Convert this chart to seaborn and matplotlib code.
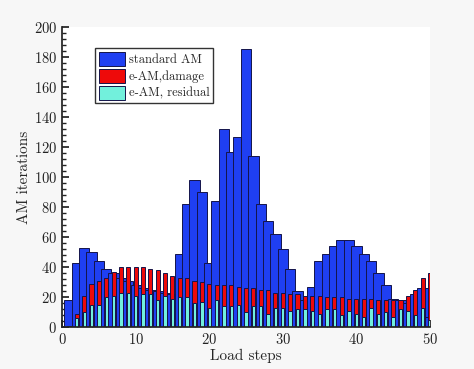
import matplotlib
matplotlib.use("Agg")
import matplotlib.pyplot as plt
import seaborn as sns
import numpy as np

# load steps 1..50
steps = list(range(1, 51))

standard_am = [18, 43, 53, 50, 44, 39, 36, 33, 31, 28,
               26, 25, 24, 23, 22, 49, 82, 98, 90, 43,
               84, 132, 117, 127, 185, 114, 82, 71, 62, 52,
               39, 24, 18, 27, 44, 49, 54, 58, 58, 54,
               49, 44, 36, 28, 19, 18, 16, 22, 26, 7]

eam_damage = [1, 9, 21, 29, 31, 33, 37, 40, 40, 40,
              40, 39, 38, 36, 34, 33, 33, 31, 30, 29,
              28, 28, 28, 27, 26, 26, 25, 25, 23, 23,
              22, 22, 21, 21, 21, 20, 20, 20, 19, 19,
              19, 19, 18, 18, 18, 18, 21, 25, 33, 36]

eam_residual = [1, 6, 10, 15, 15, 20, 21, 23, 23, 21,
                22, 22, 18, 21, 19, 20, 20, 16, 17, 13,
                18, 14, 14, 15, 10, 14, 14, 9, 13, 13,
                11, 12, 12, 11, 9, 12, 12, 8, 11, 9,
                7, 13, 9, 10, 7, 12, 11, 8, 13, 5]

sns.set_theme(style="ticks")
plt.rcParams["font.family"] = ["cmr10", "DejaVu Serif"]
plt.rcParams["mathtext.fontset"] = "cm"
plt.rcParams["axes.unicode_minus"] = False
plt.rcParams["axes.formatter.use_mathtext"] = True

fig = plt.figure(figsize=(4.74, 3.69), dpi=100, facecolor="#f7f7f7")
ax = fig.add_axes([0.131, 0.1125, 0.776, 0.815])
ax.set_facecolor("white")

edge = "#14144a"
sns.barplot(x=steps, y=standard_am, native_scale=True, width=1.4, color="#1f3ff2",
            saturation=1, edgecolor=edge, linewidth=0.7, errorbar=None,
            label="standard AM", ax=ax)
sns.barplot(x=steps, y=eam_damage, native_scale=True, width=0.55, color="#ee0a0a",
            saturation=1, edgecolor=edge, linewidth=0.7, errorbar=None,
            label="e-AM,damage", ax=ax)
sns.barplot(x=steps, y=eam_residual, native_scale=True, width=0.45, color="#72f0dc",
            saturation=1, edgecolor=edge, linewidth=0.7, errorbar=None,
            label="e-AM, residual", ax=ax)

ax.set_xlim(0, 50)
ax.set_ylim(0, 200)
ax.set_xticks(range(0, 51, 10))
ax.set_xticks(range(0, 51, 2), minor=True)
ax.set_yticks(range(0, 201, 20))
ax.set_yticks(range(0, 201, 4), minor=True)
ax.tick_params(axis="both", which="both", direction="in", labelsize=10.5, colors="#222222")
ax.tick_params(which="major", length=5)
ax.tick_params(which="minor", length=3)
sns.despine(ax=ax)
ax.spines["left"].set_color("#222222")
ax.spines["bottom"].set_color("#222222")

ax.set_xlabel("Load steps", fontsize=11, labelpad=1)
ax.set_ylabel("AM iterations", fontsize=11, labelpad=2)

leg = ax.legend(loc="upper left", bbox_to_anchor=(0.09, 0.928), fontsize=9,
                frameon=True, fancybox=False, edgecolor="#333333", framealpha=1,
                handlelength=2.1, handleheight=1.35, handletextpad=0.3,
                labelspacing=0.2, borderpad=0.3, borderaxespad=0)
leg.get_frame().set_linewidth(1.0)

fig.savefig("out.png", dpi=100, facecolor=fig.get_facecolor())
